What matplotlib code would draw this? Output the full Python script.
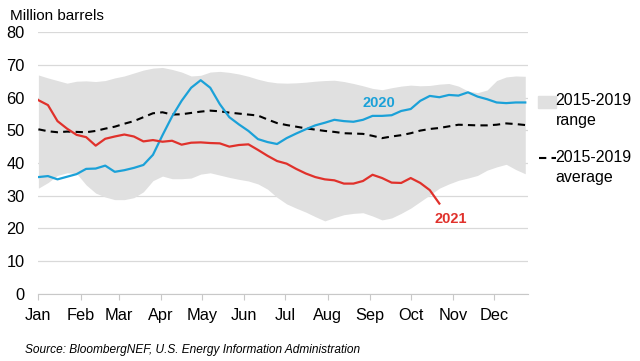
import matplotlib
matplotlib.use("Agg")
import matplotlib.pyplot as plt
import numpy as np

plt.rcParams["font.family"] = ["Liberation Sans", "DejaVu Sans"]

# weekly points, day of year
week_days = [7 * i for i in range(52)]

months = ["Jan", "Feb", "Mar", "Apr", "May", "Jun",
          "Jul", "Aug", "Sep", "Oct", "Nov", "Dec"]
month_days = [0, 31, 59, 90, 120, 151, 181, 212, 243, 273, 304, 334]

range_high = [66.9, 66.0, 65.2, 64.4, 65.0, 65.1, 64.9, 65.2, 66.0, 66.6,
              67.5, 68.4, 69.0, 69.2, 68.6, 67.8, 66.6, 66.8, 67.8, 68.0,
              67.7, 67.2, 66.5, 65.6, 64.9, 64.5, 64.4, 64.5, 64.7, 65.0,
              65.2, 65.3, 64.9, 64.3, 63.6, 62.8, 62.4, 63.0, 63.5, 63.8,
              63.6, 63.7, 64.1, 64.3, 63.5, 62.0, 61.5, 62.3, 65.2, 66.3,
              66.6, 66.5]
range_low = [32.3, 34.0, 36.2, 37.0, 36.8, 33.3, 30.8, 29.6, 28.8, 28.8,
             29.4, 31.2, 34.6, 36.0, 35.2, 35.2, 35.4, 36.6, 37.0, 36.3,
             35.6, 35.0, 34.5, 33.6, 32.0, 29.5, 27.5, 26.2, 25.0, 23.6,
             22.3, 23.3, 24.2, 24.6, 24.8, 23.8, 22.6, 23.2, 24.6, 26.2,
             28.2, 30.2, 32.3, 33.6, 34.7, 35.4, 36.2, 37.8, 38.8, 39.6,
             38.0, 36.7]
avg_1519 = [50.3, 49.7, 49.4, 49.6, 49.5, 49.4, 49.8, 50.5, 51.1, 52.0,
            52.8, 54.0, 55.2, 55.5, 54.8, 54.9, 55.3, 55.7, 56.0, 55.8,
            55.4, 55.1, 54.8, 54.5, 53.3, 52.2, 51.6, 51.1, 50.6, 50.2,
            49.8, 49.5, 49.1, 49.0, 48.9, 48.3, 47.6, 48.1, 48.5, 49.1,
            49.9, 50.4, 50.7, 51.2, 51.7, 51.6, 51.5, 51.5, 51.7, 52.1,
            51.9, 51.6]
stocks_2020 = [35.7, 36.0, 35.0, 35.8, 36.6, 38.2, 38.3, 39.2, 37.3, 37.8,
               38.5, 39.4, 42.5, 48.5, 54.2, 59.0, 63.0, 65.3, 63.0, 58.0,
               54.0, 51.8, 49.8, 47.3, 46.4, 45.8, 47.6, 49.0, 50.3, 51.5,
               52.3, 53.2, 52.8, 52.6, 53.2, 54.4, 54.4, 54.6, 55.9, 56.5,
               59.0, 60.5, 60.1, 60.8, 60.6, 61.6, 60.3, 59.5, 58.5, 58.3,
               58.5, 58.5]
stocks_2021 = [59.2, 57.7, 52.8, 50.5, 48.6, 47.9, 45.3, 47.4, 48.1, 48.7,
               48.1, 46.6, 47.0, 46.5, 46.8, 45.6, 46.2, 46.3, 46.1, 46.0,
               45.0, 45.5, 45.7, 44.0, 42.2, 40.6, 39.8, 38.2, 36.8, 35.7,
               35.0, 34.7, 33.7, 33.7, 34.5, 36.4, 35.4, 34.0, 33.9, 35.4,
               33.9, 31.7, 27.6]

BLUE = "#1ba1d8"
RED = "#e0312b"
BAND = "#e0e0e0"
GRID = "#d9d9d9"


def main():
    fig = plt.figure(figsize=(6.4, 3.61), dpi=100)
    ax = fig.add_axes([0.060, 0.186, 0.765, 0.725])

    ax.fill_between(week_days, range_low, range_high, color=BAND, lw=0, zorder=1)
    ax.plot(week_days, avg_1519, color="black", lw=1.5, ls=(0, (3.5, 2.5)), zorder=3)
    ax.plot(week_days, stocks_2020, color=BLUE, lw=1.6, zorder=4)
    ax.plot(week_days[:len(stocks_2021)], stocks_2021, color=RED, lw=1.6, zorder=4)

    ax.set_xlim(0, 359)
    ax.set_ylim(0, 80)
    ax.set_yticks(range(0, 81, 10))
    ax.set_xticks(month_days)
    ax.set_xticklabels(months)
    ax.grid(axis="y", color=GRID, lw=0.9, zorder=0)
    ax.set_axisbelow(True)
    for side in ["top", "right", "left"]:
        ax.spines[side].set_visible(False)
    ax.spines["bottom"].set_color("#c8c8c8")
    ax.tick_params(axis="y", length=0, labelsize=11.8, pad=10)
    ax.tick_params(axis="x", length=4, color="#c8c8c8", labelsize=11.8, pad=6)

    ax.text(250, 58.2, "2020", color=BLUE, fontsize=10.5,
            fontweight="bold", ha="center", va="center")
    ax.text(302, 22.8, "2021", color=RED, fontsize=10.5,
            fontweight="bold", ha="center", va="center")

    fig.text(0.015, 0.955, "Million barrels", fontsize=11, va="center")

    # legend drawn by hand to the right of the plot
    fig.patches.append(plt.Rectangle((0.841, 0.700), 0.028, 0.035,
                                     transform=fig.transFigure, color=BAND))
    fig.text(0.868, 0.722, "2015-2019", fontsize=11.5, va="center")
    fig.text(0.868, 0.665, "range", fontsize=11.5, va="center")
    fig.lines.append(plt.Line2D([0.842, 0.868], [0.563, 0.563],
                                transform=fig.transFigure, color="black",
                                lw=1.5, ls=(0, (3.5, 2.5))))
    fig.text(0.868, 0.563, "2015-2019", fontsize=11.5, va="center")
    fig.text(0.868, 0.508, "average", fontsize=11.5, va="center")

    fig.text(0.039, 0.030, "Source: BloombergNEF, U.S. Energy Information Administration",
             fontsize=8.6, style="italic", va="center")

    fig.savefig("out.png", dpi=100)


if __name__ == "__main__":
    main()
